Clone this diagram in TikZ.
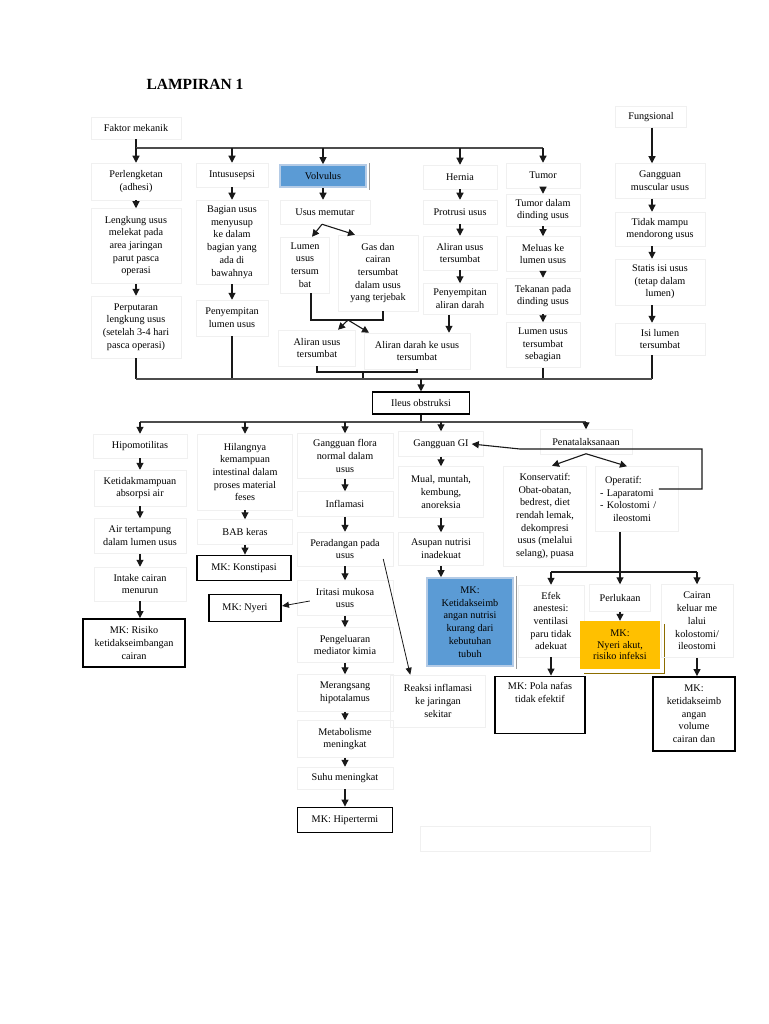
\documentclass[tikz,border=0pt]{standalone}
\usepackage{fontspec}
\setmainfont{Liberation Serif}
\usetikzlibrary{arrows.meta,calc}
\definecolor{vblue}{HTML}{5B9BD5}
\definecolor{vborder}{HTML}{B4CBE6}
\definecolor{mkyel}{HTML}{FFC000}
\definecolor{shad}{HTML}{8C6D00}
\begin{document}
\begin{tikzpicture}[x=1pt,y=-1pt,
 every node/.style={font=\fontsize{10.2}{12.7}\selectfont, align=center, inner sep=1pt},
 sz/.style 2 args={minimum width=#1pt, minimum height=#2pt},
 bx/.style={draw=black!6, line width=0.5pt},
 mk/.style={draw=black, line width=1.9pt},
 bluebx/.style={fill=vblue, draw=vborder, line width=1.6pt},
 ln/.style={line width=1.1pt, draw=black!90},
 hl/.style={line width=1.8pt, draw=black!70},
 arr/.style={ln, -{Triangle[length=7pt,width=7pt]}},
 thinarr/.style={line width=0.8pt, draw=black!90, -{Triangle[length=7pt,width=6pt]}},
]
\fill[white] (0,0) rectangle (768,1024);
\useasboundingbox (0,0) rectangle (768,1024);

\node[font=\fontsize{15.5}{18}\selectfont\bfseries] (title) at (195,84) {LAMPIRAN 1};

% ---------- top part ----------
\node[bx,sz={90}{22}] (faktor) at (136,128) {Faktor mekanik};
\node[bx,sz={90}{37}] (perl) at (136,181.5) {Perlengketan\\(adhesi)};
\node[bx,sz={90}{75}] (lengk) at (136,246) {Lengkung usus\\melekat pada\\area jaringan\\parut pasca\\operasi};
\node[bx,sz={90}{62}] (putar) at (136,327) {Perputaran\\lengkung usus\\(setelah 3-4 hari\\pasca operasi)};

\node[bx,sz={72}{24}] (intus) at (232,175) {Intususepsi};
\node[bx,sz={72}{84}] (bagian) at (232,242) {Bagian usus\\menyusup\\ke dalam\\bagian yang\\ada di\\bawahnya};
\node[bx,sz={72}{36}] (penyLumen) at (232,318) {Penyempitan\\lumen usus};

\node[bluebx,sz={86}{22}] (volvulus) at (323,176) {Volvulus};
\draw[black!40,line width=0.8pt] ([xshift=2.5pt,yshift=1pt]volvulus.north east) -- ([xshift=2.5pt,yshift=-2pt]volvulus.south east);
\node[bx,sz={90}{24}] (memutar) at (325,212) {Usus memutar};
\node[bx,sz={49}{56}] (lumen) at (305,265) {Lumen\\usus\\tersum\\bat};
\node[bx,sz={80}{76}] (gas) at (378,273) {Gas dan\\cairan\\tersumbat\\dalam usus\\yang terjebak};
\node[bx,sz={77}{36}] (aliranU) at (317,348) {Aliran usus\\tersumbat};
\node[bx,sz={106}{36}] (aliranD) at (417,351) {Aliran darah ke usus\\tersumbat};

\node[bx,sz={74}{24}] (hernia) at (460,177) {Hernia};
\node[bx,sz={74}{24}] (protrusi) at (460,212) {Protrusi usus};
\node[bx,sz={74}{34}] (aliranH) at (460,253) {Aliran usus\\tersumbat};
\node[bx,sz={74}{31}] (penyAliran) at (460,299) {Penyempitan\\aliran darah};

\node[bx,sz={74}{25}] (tumor) at (543,175.5) {Tumor};
\node[bx,sz={74}{32}] (tumorDalam) at (543,210) {Tumor dalam\\dinding usus};
\node[bx,sz={74}{35}] (meluas) at (543,254) {Meluas ke\\lumen usus};
\node[bx,sz={74}{36}] (tekanan) at (543,296) {Tekanan pada\\dinding usus};
\node[bx,sz={74}{45}] (lumenSeb) at (543,345) {Lumen usus\\tersumbat\\sebagian};

\node[bx,sz={71}{21}] (fungs) at (651,117) {Fungsional};
\node[bx,sz={90}{35}] (muscular) at (660,181) {Gangguan\\muscular usus};
\node[bx,sz={90}{34}] (tidakMampu) at (660,229) {Tidak mampu\\mendorong usus};
\node[bx,sz={90}{46}] (statis) at (660,282) {Statis isi usus\\(tetap dalam\\lumen)};
\node[bx,sz={90}{32}] (isiLumen) at (660,339) {Isi lumen\\tersumbat};

% top connectors
\coordinate (tl) at (0,148);
\draw[ln] (faktor.south) -- (faktor.south |- tl);
\draw[hl] (faktor.south |- tl) -- (tumor.north |- tl);
\foreach \nn in {perl,intus,volvulus,hernia,tumor} \draw[arr] (\nn.north |- tl) -- (\nn.north);

\draw[arr] (perl.south) -- (lengk.north);
\draw[arr] (lengk.south) -- (putar.north);
\draw[arr] (intus.south) -- (bagian.north);
\draw[arr] (bagian.south) -- (penyLumen.north);
\draw[arr] (volvulus.south) -- (volvulus.south |- memutar.north);
\coordinate (mb) at ([xshift=-3pt]memutar.south);
\draw[arr] (mb) -- ([xshift=7pt]lumen.north);
\draw[arr] (mb) -- ([xshift=-23pt]gas.north);
\coordinate (lumS) at ([xshift=6pt]lumen.south);
\coordinate (gasS) at ([xshift=5pt]gas.south);
\coordinate (vm) at (348,320);
\draw[ln] (lumS) |- (vm) -| (gasS);
\draw[arr] (vm) -- ([xshift=21pt]aliranU.north);
\draw[arr] (vm) -- ([xshift=-48pt]aliranD.north);

\draw[arr] (hernia.south) -- (protrusi.north);
\draw[arr] (protrusi.south) -- (aliranH.north);
\draw[arr] (aliranH.south) -- (penyAliran.north);
\coordinate (paS) at ([xshift=-11pt]penyAliran.south);
\draw[arr] (paS) -- (paS |- aliranD.north);

\draw[arr] (tumor.south) -- (tumorDalam.north);
\draw[arr] (tumorDalam.south) -- (meluas.north);
\draw[arr] (meluas.south) -- (tekanan.north);
\draw[arr] (tekanan.south) -- (lumenSeb.north);

\coordinate (fS) at ([xshift=1pt]fungs.south);
\draw[arr] (fS) -- (fS |- muscular.north);
\coordinate (muS) at ([xshift=-8pt]muscular.south);
\coordinate (tmN) at ([xshift=-8pt]tidakMampu.north);
\coordinate (tmS) at ([xshift=-8pt]tidakMampu.south);
\coordinate (stN) at ([xshift=-8pt]statis.north);
\coordinate (stS) at ([xshift=-8pt]statis.south);
\coordinate (isN) at ([xshift=-8pt]isiLumen.north);
\coordinate (isS) at ([xshift=-8pt]isiLumen.south);
\draw[arr] (muS) -- (tmN);
\draw[arr] (tmS) -- (stN);
\draw[arr] (stS) -- (isN);

% main collecting line
\node[draw=black, line width=1.1pt, sz={97}{22}] (ileus) at (421,403) {Ileus obstruksi};
\coordinate (m) at (421,379);
\coordinate (brk) at (363,372);
\draw[ln] (aliranU.south) |- (brk) -| (aliranD.south);
\draw[ln] (brk) -- (brk |- m);
\draw[ln] (putar.south) -- (putar.south |- m);
\draw[ln] (penyLumen.south) -- (penyLumen.south |- m);
\draw[ln] (lumenSeb.south) -- (lumenSeb.south |- m);
\draw[ln] (isS) -- (isS |- m);
\draw[hl] (putar.south |- m) -- (isS |- m);
\draw[arr] (m) -- (m |- ileus.north);

% ---------- lower part ----------
\node[bx,sz={94}{24}] (hipo) at (140,446) {Hipomotilitas};
\node[bx,sz={92}{36}] (ketidak) at (140,488) {Ketidakmampuan\\absorpsi air};
\node[bx,sz={92}{35}] (air) at (140,536) {Air tertampung\\dalam lumen usus};
\node[bx,sz={92}{34}] (intake) at (140,584) {Intake cairan\\menurun};
\node[mk,sz={102}{48}] (mkRisiko) at (134,643) {MK: Risiko\\ketidakseimbangan\\cairan};

\node[bx,sz={95}{76}] (hilang) at (245,472) {Hilangnya\\kemampuan\\intestinal dalam\\proses material\\feses};
\node[bx,sz={95}{25}] (bab) at (245,532) {BAB keras};
\node[mk,sz={94}{25}] (konstipasi) at (244,568) {MK: Konstipasi};

\node[bx,sz={96}{45}] (flora) at (345,456) {Gangguan flora\\normal dalam\\usus};
\node[bx,sz={96}{25}] (inflamasi) at (345,504) {Inflamasi};
\node[bx,sz={96}{34}] (peradangan) at (345,549) {Peradangan pada\\usus};
\node[bx,sz={96}{35}] (iritasi) at (345,598) {Iritasi mukosa\\usus};
\node[mk,sz={72}{27}] (nyeri) at (245,608) {MK: Nyeri};
\node[bx,sz={96}{35}] (pengeluaran) at (345,645) {Pengeluaran\\mediator kimia};
\node[bx,sz={96}{37}] (merangsang) at (345,693) {Merangsang\\hipotalamus};
\node[bx,sz={96}{37}] (metabolisme) at (345,739) {Metabolisme\\meningkat};
\node[bx,sz={96}{22}] (suhu) at (345,778) {Suhu meningkat};
\node[mk,sz={95}{25}] (hipertermi) at (345,820) {MK: Hipertermi};
\node[bx,sz={95}{52}] (reaksi) at (438,701) {Reaksi inflamasi\\ke jaringan\\sekitar};

\node[bx,sz={85}{25}] (gi) at (441,444) {Gangguan GI};
\node[bx,sz={85}{51}] (mual) at (441,492) {Mual, muntah,\\kembung,\\anoreksia};
\node[bx,sz={85}{33}] (asupan) at (441,549) {Asupan nutrisi\\inadekuat};
\node[bluebx,sz={86}{88}] (mkNutrisi) at (470,622) {MK:\\Ketidakseimb\\angan nutrisi\\kurang dari\\kebutuhan\\tubuh};
\draw[black!40,line width=0.8pt] ([xshift=2.5pt,yshift=1pt]mkNutrisi.north east) -- ([xshift=2.5pt,yshift=-2pt]mkNutrisi.south east);

\node[bx,sz={92}{25}] (penata) at (586,442) {Penatalaksanaan};
\node[bx,sz={83}{100}] (konserv) at (545,516) {Konservatif:\\Obat-obatan,\\bedrest, diet\\rendah lemak,\\dekompresi\\usus (melalui\\selang), puasa};
\node[bx,text width=74pt,align=left,inner sep=4.5pt,minimum height=65pt] (operatif) at (637,499) {\hspace*{5pt}Operatif:\\- Laparatomi\\- Kolostomi /\\\hspace*{13pt}ileostomi};

\node[bx,sz={66}{72}] (efek) at (551,621) {Efek\\anestesi:\\ventilasi\\paru tidak\\adekuat};
\node[mk,sz={90}{57}] (mkPola) at (540,705) {MK: Pola nafas\\tidak efektif\\~\\~};
\node[bx,sz={61}{27}] (perlukaan) at (620,598) {Perlukaan};
\node[fill=mkyel,sz={80}{48},font=\fontsize{10.2}{11.3}\selectfont] (mkNyeri) at (620,645) {MK:\\Nyeri akut,\\risiko infeksi};
\draw[shad,line width=1pt] ([xshift=4pt,yshift=-3pt]mkNyeri.north east) -- ([xshift=4pt,yshift=-4pt]mkNyeri.south east) -- ([xshift=4pt,yshift=-4pt]mkNyeri.south west);
\node[bx,sz={72}{73}] (cairan) at (697,621) {Cairan\\keluar me\\lalui\\kolostomi/\\ileostomi};
\node[mk,sz={82}{74}] (mkVolume) at (694,714) {MK:\\ketidakseimb\\angan\\volume\\cairan dan};

\node[bx,sz={230}{25}] (blank) at (535,839) {};

% lower connectors
\coordinate (b) at (421,422);
\draw[ln] (ileus.south) -- (b);
\draw[hl] (hipo.north |- b) -- (penata.north |- b);
\foreach \nn in {hipo,hilang,flora,gi,penata} \draw[arr] (\nn.north |- b) -- (\nn.north);

\draw[arr] (hipo.south) -- (ketidak.north);
\draw[arr] (ketidak.south) -- (air.north);
\draw[arr] (air.south) -- (intake.north);
\draw[arr] (intake.south) -- (intake.south |- mkRisiko.north);

\draw[arr] (hilang.south) -- (bab.north);
\draw[arr] (bab.south) -- (bab.south |- konstipasi.north);

\draw[arr] (flora.south) -- (inflamasi.north);
\draw[arr] (inflamasi.south) -- (peradangan.north);
\draw[arr] (peradangan.south) -- (iritasi.north);
\draw[arr] (iritasi.south) -- (pengeluaran.north);
\draw[arr] (pengeluaran.south) -- (merangsang.north);
\draw[arr] (merangsang.south) -- (metabolisme.north);
\draw[arr] (metabolisme.south) -- (suhu.north);
\draw[arr] (suhu.south) -- (hipertermi.north);
\draw[thinarr] ([xshift=13pt,yshift=-3pt]iritasi.west) -- ([yshift=2pt]nyeri.east);
\draw[thinarr] ([xshift=-10pt,yshift=-10pt]peradangan.east) -- ([xshift=20pt]reaksi.north west);

\draw[arr] (gi.south) -- (mual.north);
\draw[arr] (mual.south) -- (asupan.north);
\draw[arr] (asupan.south) -- (asupan.south |- mkNutrisi.north);

\coordinate (pb) at ([yshift=1pt]penata.south);
\draw[arr] (pb) -- ([xshift=7pt]konserv.north);
\draw[arr] (pb) -- ([xshift=-10pt]operatif.north);

\coordinate (lapE) at ([xshift=-20pt,yshift=10pt]operatif.east);
\coordinate (fbR) at (702,449);
\coordinate (fbL) at (520,449);
\draw[arr] (lapE) -| (fbR) -- (fbL) -- ([xshift=-12pt]gi.east);

\coordinate (opS) at ([xshift=-17pt]operatif.south);
\coordinate (ob) at (opS |- 0,572);
\draw[ln] (opS) -- (ob);
\draw[ln] (efek.north |- ob) -- (cairan.north |- ob);
\draw[arr] (efek.north |- ob) -- (efek.north);
\draw[arr] (ob) -- (ob |- perlukaan.north);
\draw[arr] (cairan.north |- ob) -- (cairan.north);

\draw[arr] (efek.south) -- (efek.south |- mkPola.north);
\draw[arr] (perlukaan.south) -- (perlukaan.south |- mkNyeri.north);
\draw[arr] (cairan.south) -- (cairan.south |- mkVolume.north);
\end{tikzpicture}
\end{document}
